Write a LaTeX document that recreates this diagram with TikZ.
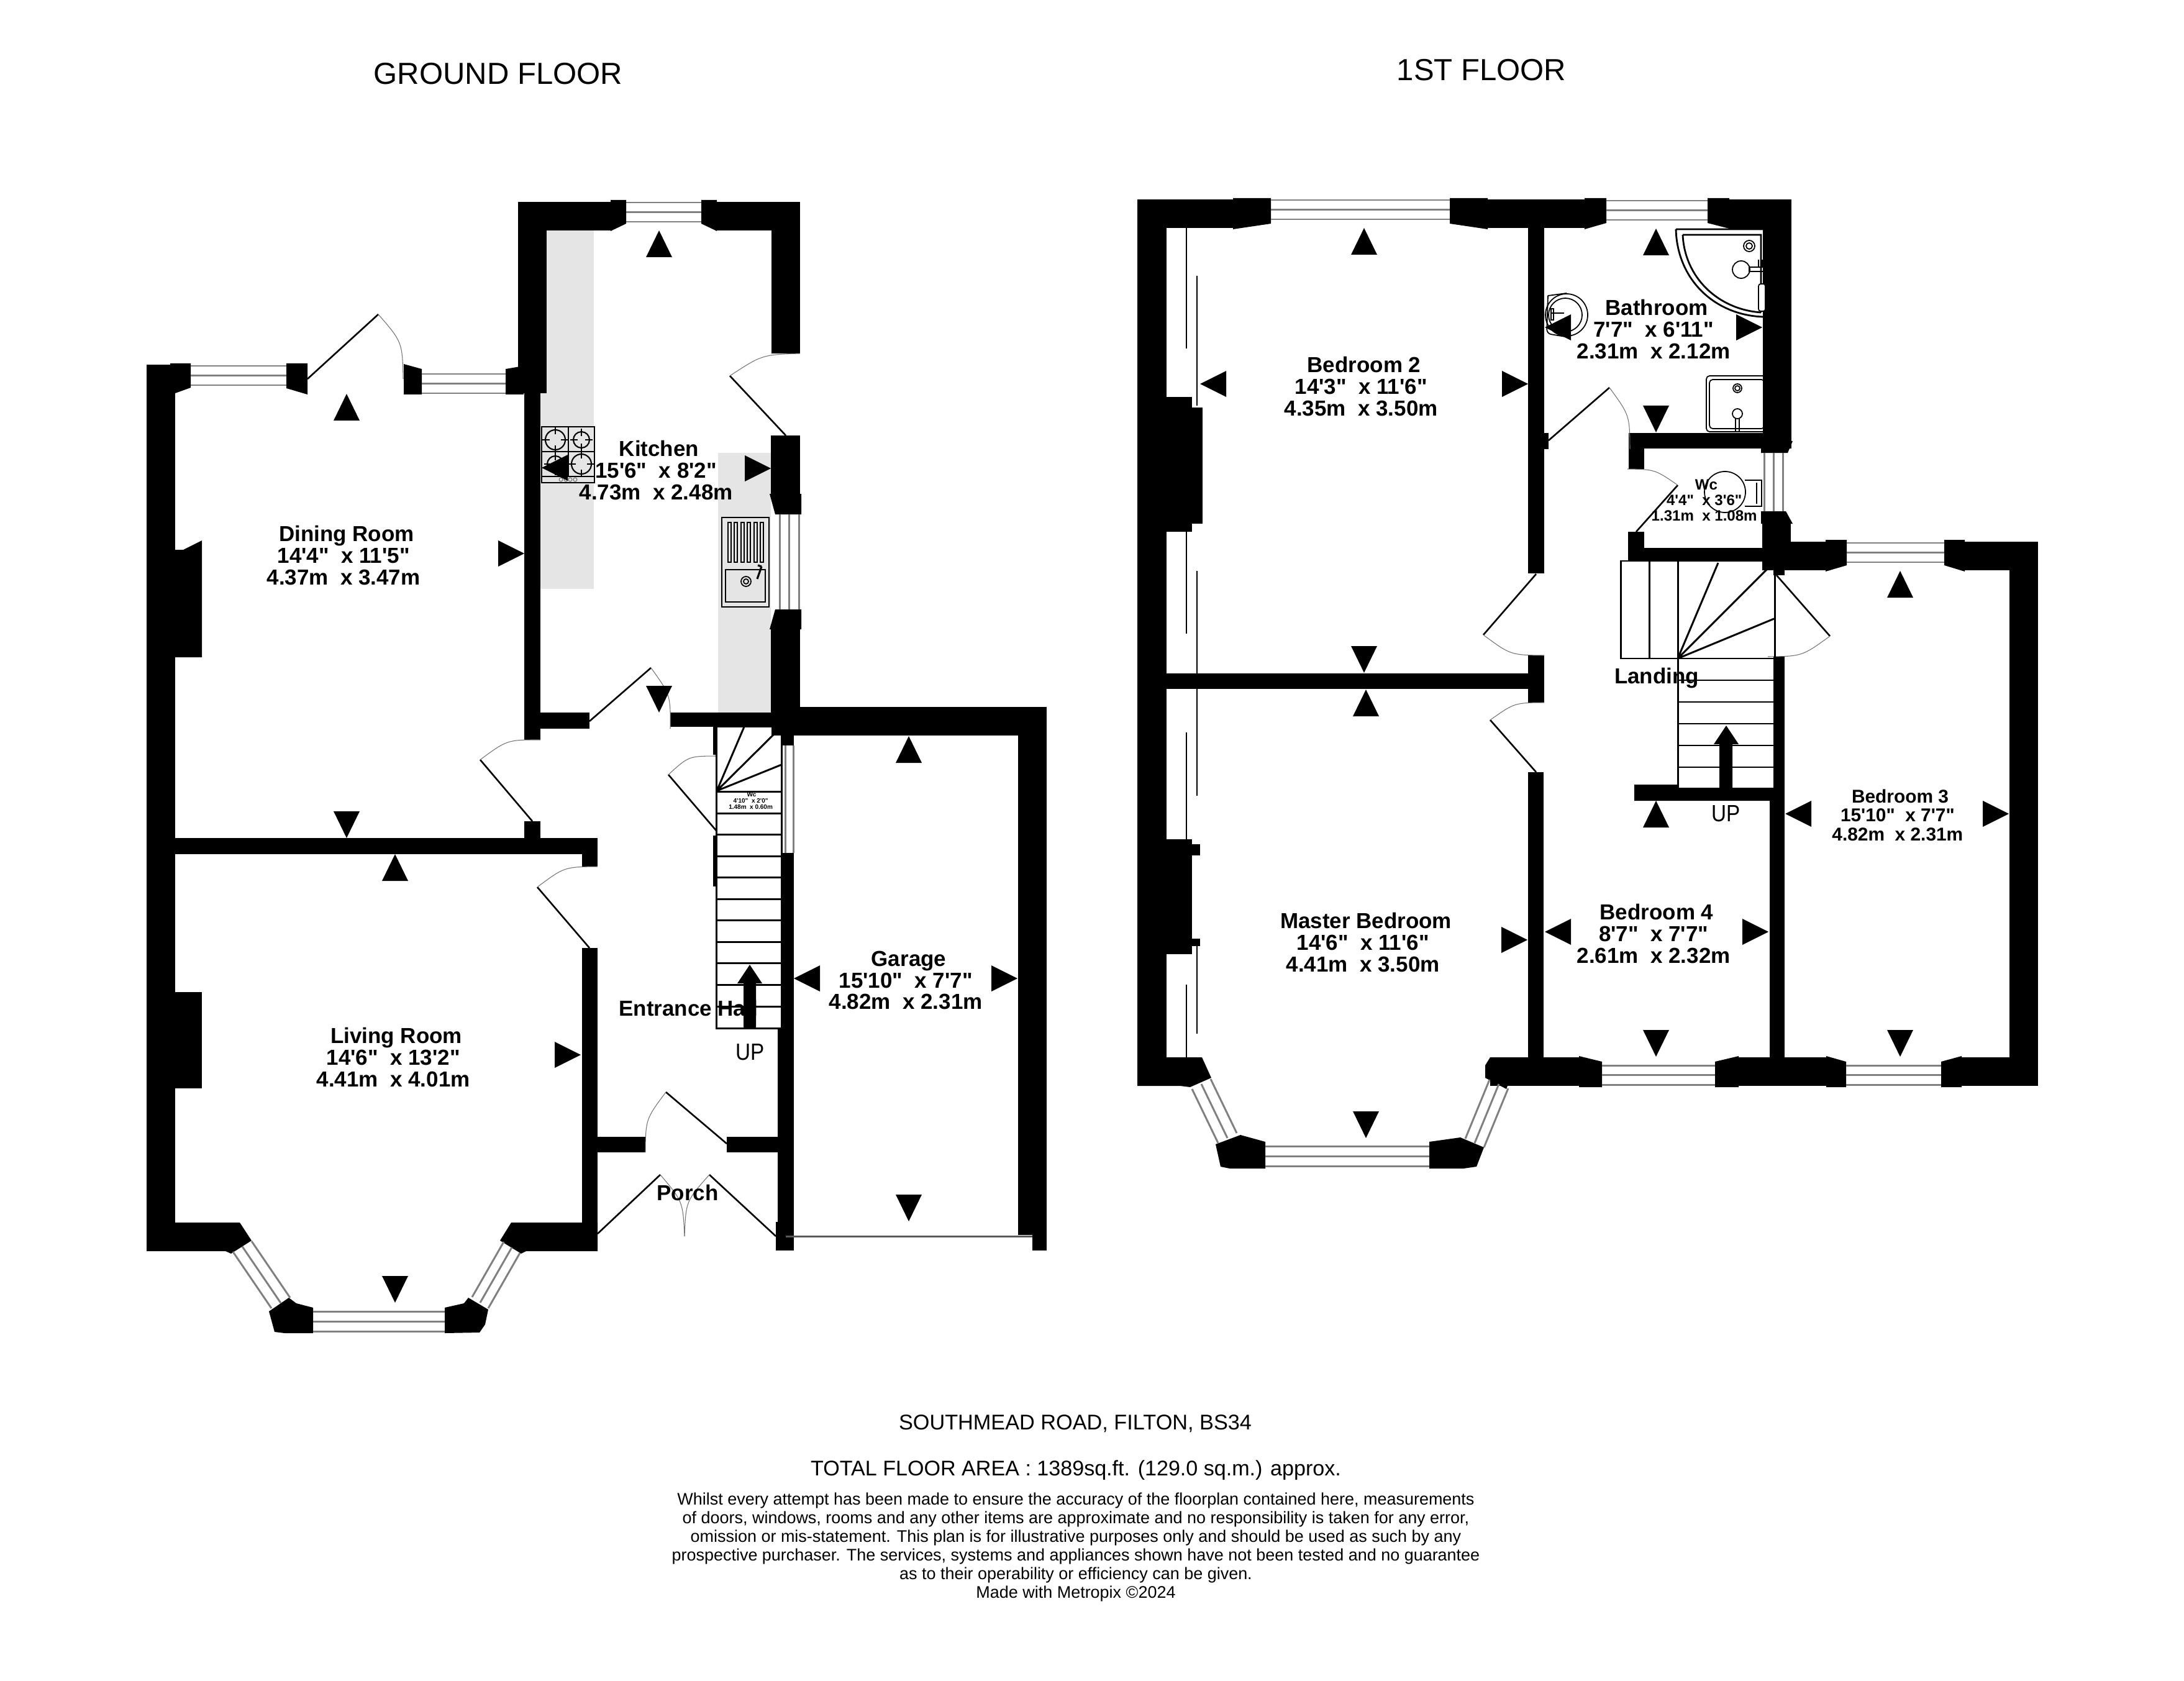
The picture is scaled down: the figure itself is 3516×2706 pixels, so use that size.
\documentclass[tikz,border=0pt]{standalone}
\usepackage{fontspec}
\newfontfamily\plan{Liberation Sans}
\newfontfamily\upplan[FakeStretch=.88]{Liberation Sans}
\newcommand{\roomfont}{\plan\bfseries\fontsize{19.9}{19.9}\selectfont}
\newcommand{\tl}{\kern.278em\relax}
\tikzset{
    wall/.style={fill=black},
    counter/.style={fill=black!10},
    glass/.style={draw=black!50, line width=1.7pt},
    leaf/.style={draw=black, line width=1.5pt},
    swing/.style={draw=black!55, line width=.6pt},
    tread/.style={draw=black, line width=1.7pt},
    fixture/.style={draw=black, line width=1pt},
    thinline/.style={draw=black, line width=1.1pt},
    room/.style={font=\roomfont, align=center, inner sep=0pt},
    upmark/.style={font=\upplan\fontsize{21.5}{21.5}\selectfont, inner sep=0pt},
}

\begin{document}
\begin{tikzpicture}[x=0.02cm, y=-0.02cm]
    \useasboundingbox (0,0) rectangle (3516,2706);

    % titles
    \node[font=\plan\fontsize{27.9}{27.9}\selectfont] (groundtitle) at (802,119) {GROUND FLOOR};
    \node[font=\plan\fontsize{27.9}{27.9}\selectfont] (firsttitle) at (2385,113) {1ST FLOOR};

    % kitchen worktops
    \fill[counter] (870,371) rectangle (956,948);
    \fill[counter] (1156,729) rectangle (1241,1147);

    % hob
    \draw[fixture, line width=1.3pt] (872,687) rectangle (957,777);
    \draw[fixture] (872,727)--(957,727) (872,767)--(957,767) (915,687)--(915,767);
    \foreach \cx/\cy/\cr in {894/708/16, 936/708/13, 894/747/13, 936/747/16}
    {
        \draw[fixture, line width=1.2pt] (\cx,\cy) circle[radius=\cr];
        \draw[fixture, line width=.8pt] ({\cx-\cr-5},\cy)--({\cx-\cr+7},\cy) ({\cx+\cr-7},\cy)--({\cx+\cr+5},\cy)
            (\cx,{\cy-\cr-5})--(\cx,{\cy-\cr+7}) (\cx,{\cy+\cr-7})--(\cx,{\cy+\cr+5});
    }
    \foreach \cx in {903,911,918,926}
        \draw[swing] (\cx,772) circle[radius=3];

    % sink
    \draw[fixture, line width=1.3pt] (1162,833) rectangle (1238,977);
    \draw[fixture] (1168,917) rectangle (1232,969);
    \foreach \bx in {1172,1182,1193,1203,1214,1224}
        \draw[swing, draw=black, line width=.8pt] (\bx,841) rectangle ++(5,64);
    \draw[fixture] (1201,936) circle[radius=8] (1201,936) circle[radius=4];
    \draw[fixture, line width=1.8pt] (1226,912)--(1219,932) (1220,910)--(1226,912);

    % ground floor walls
    \foreach \ax/\ay/\bx/\by in {236/587/282/2014, 834/325/880/633, 844/633/870/1191, 834/325/983/371,
        1154/325/1288/371, 1242/325/1288/569, 1241/701/1288/795, 1241/1013/1288/1170,
        870/1147/949/1173, 1079/1147/1242/1170, 1242/1138/1685/1184, 1258/1170/1278/1200,
        1639/1138/1685/1988, 1662/1988/1685/2013, 1258/1373/1278/1655, 1252/1655/1278/1988,
        1249/1967/1278/2013, 1148/1170/1154/1215, 1148/1345/1154/1427, 962/1830/1039/1855,
        1170/1830/1253/1855, 282/1349/962/1375, 937/1349/962/1395, 844/1322/870/1375,
        937/1526/962/2014, 282/1597/325/1752}
        \fill[wall] (\ax,\ay) rectangle (\bx,\by);
    \fill[wall] (282,885)--(295,885)--(325,870)--(325,1058)--(282,1058)--cycle;
    \fill[wall] (274,585)--(307,585)--(307,624)--(282,633)--(274,633)--cycle;
    \fill[wall] (461,585)--(495,585)--(495,635)--(461,625)--cycle;
    \fill[wall] (650,586)--(679,594)--(679,635)--(650,635)--cycle;
    \fill[wall] (814,594)--(843,589)--(843,635)--(814,635)--cycle;
    \fill[wall] (983,322)--(1008,322)--(1008,360)--(983,372)--cycle;
    \fill[wall] (1129,322)--(1154,322)--(1154,372)--(1129,360)--cycle;
    \fill[wall] (1239,795)--(1290,795)--(1290,828)--(1248,828)--cycle;
    \fill[wall] (1248,981)--(1290,981)--(1290,1013)--(1239,1013)--cycle;
    \fill[wall] (236,1968)--(386,1968)--(405,1997)--(372,2018)--(363,2014)--(236,2014)--cycle;
    \fill[wall] (823,1968)--(962,1968)--(962,2014)--(847,2014)--(839,2018)--(805,1997)--cycle;
    \fill[wall] (433,2111)--(465,2089)--(477,2098)--(504,2105)--(504,2146)--(458,2146)--(442,2144)--cycle;
    \fill[wall] (716,2105)--(747,2098)--(754,2089)--(786,2108)--(781,2132)--(772,2145)--(716,2146)--cycle;

    % first floor walls
    \foreach \ax/\ay/\bx/\by in {1831/321/1878/1748, 1831/321/1985/367, 2395/321/2551/367, 2784/321/2884/368,
        2838/321/2884/710, 2460/367/2486/923, 2486/697/2493/723, 2622/697/2884/722, 2622/722/2647/755,
        2621/856/2647/903, 2621/882/2855/903, 2837/843/2883/918, 2883/872/2939/918, 3163/872/3281/918,
        3235/872/3281/1748, 2855/903/2873/926, 2855/1057/2873/1280, 2849/1268/2873/1748,
        1878/1084/2486/1109, 2460/1055/2486/1131, 2460/1243/2485/1702, 2399/1702/2542/1748,
        2799/1702/2940/1748, 3158/1702/3281/1748, 1878/639/1919/856, 1919/656/1936/843,
        1877/1351/1919/1536, 1919/1359/1932/1377, 1919/1511/1932/1523}
        \fill[wall] (\ax,\ay) rectangle (\bx,\by);
    \fill[wall] (1985,319)--(2046,319)--(2046,360)--(1985,369)--cycle;
    \fill[wall] (2334,319)--(2395,319)--(2395,369)--(2334,360)--cycle;
    \fill[wall] (2551,319)--(2586,319)--(2586,359)--(2551,369)--cycle;
    \fill[wall] (2749,319)--(2784,319)--(2784,368)--(2749,359)--cycle;
    \fill[wall] (2835,710)--(2886,710)--(2878,729)--(2835,729)--cycle;
    \fill[wall] (2835,823)--(2875,823)--(2886,843)--(2835,843)--cycle;
    \fill[wall] (2939,869)--(2973,869)--(2973,910)--(2939,920)--cycle;
    \fill[wall] (3130,869)--(3163,869)--(3163,920)--(3130,910)--cycle;
    \fill[wall] (2631,1263)--(2701,1263)--(2701,1268)--(2856,1268)--(2856,1289)--(2631,1289)--cycle;
    \fill[wall] (2542,1700)--(2579,1709)--(2579,1750)--(2542,1750)--cycle;
    \fill[wall] (2761,1709)--(2799,1700)--(2799,1750)--(2761,1750)--cycle;
    \fill[wall] (2940,1700)--(2972,1709)--(2972,1750)--(2940,1750)--cycle;
    \fill[wall] (3125,1709)--(3158,1700)--(3158,1750)--(3125,1750)--cycle;
    \fill[wall] (1831,1702)--(1935,1702)--(1950,1735)--(1916,1750)--(1900,1748)--(1831,1748)--cycle;
    \fill[wall] (2399,1702)--(2391,1715)--(2391,1735)--(2425,1753)--(2432,1735)--(2440,1702)--cycle;
    \fill[wall] (1957,1842)--(1997,1827)--(2037,1838)--(2037,1881)--(1980,1881)--(1965,1878)--cycle;
    \fill[wall] (2301,1838)--(2351,1831)--(2389,1847)--(2377,1878)--(2356,1881)--(2301,1881)--cycle;

    % wardrobes
    \draw[thinline] (1910,367)--(1910,561) (1927,444)--(1927,653) (1910,856)--(1910,1020) (1927,919)--(1927,1084);
    \draw[thinline] (1927,1109)--(1927,1281) (1910,1179)--(1910,1351) (1927,1523)--(1927,1664) (1910,1585)--(1910,1702);

    % windows: start, end, offset between panes
    \foreach \ax/\ay/\bx/\by/\dx/\dy in {307/589/461/589/0/15.5, 679/602/814/602/0/15.5, 1008/326/1129/326/0/15.5,
        1255/828/1255/981/15.5/0, 375/2015/437/2106/15/-8.5, 837/2017/786/2106/-13/-9,
        504/2111/716/2111/0/16, 2046/322/2334/322/0/15.5, 2586/323/2749/323/0/15.5,
        2840/729/2840/823/15/0, 2973/874/3130/874/0/15.5, 2579/1715/2761/1715/0/15.5,
        2972/1715/3125/1715/0/15.5, 2037/1845/2301/1845/0/16, 1919/1753/1961/1840/15/-8,
        2428/1752/2389/1847/-15/-7}
        \draw[glass] (\ax,\ay)--(\bx,\by)
            ({\ax+\dx},{\ay+\dy})--({\bx+\dx},{\by+\dy})
            ({\ax+2*\dx},{\ay+2*\dy})--({\bx+2*\dx},{\by+2*\dy});
    \draw[glass] (1264,1200)--(1264,1373) (1277,1200)--(1277,1373);
    \draw[glass, draw=black!65] (1265,1990)--(1662,1990);

    % doors: hinge, tip of leaf, end of swing
    \foreach \hinx/\hiny/\tipx/\tipy/\endx/\endy in {495/610/609/506/649/610, 1265/701/1175/605/1288/569,
        949/1161/1048/1075/1079/1173, 857/1322/773/1223/870/1191, 949/1526/865/1428/962/1395,
        1153/1337/1076/1247/1152/1217, 1170/1841/1072/1758/1039/1855, 962/1986/1063/1891/1102/1990,
        1249/1990/1142/1891/1102/1990, 2493/709/2591/624/2624/723, 2634/856/2701/781/2620/755,
        2860/926/2946/1024/2846/1057, 2473/924/2388/1022/2486/1055, 2473/1243/2399/1159/2486/1131}
    {
        \draw[leaf] (\hinx,\hiny)--(\tipx,\tipy);
        \draw[swing] (\tipx,\tipy) .. controls ({\hinx+1.14*((\tipx+\endx)/2-\hinx)},{\hiny+1.14*((\tipy+\endy)/2-\hiny)}) .. (\endx,\endy);
    }

    % ground floor stairs
    \draw[tread] (1153,1170) rectangle (1258,1655);
    \foreach \ty in {1274,1309,1343,1378,1412,1447,1481,1516,1550,1585,1620}
        \draw[tread] (1153,\ty)--(1258,\ty);
    \draw[tread] (1154,1273)--(1258,1231) (1154,1273)--(1258,1170) (1154,1273)--(1198,1170);

    % first floor stairs
    \draw[tread] (2609,903) rectangle (2857,1060);
    \draw[tread] (2655,903)--(2655,1060) (2701,903)--(2701,1268) (2857,1060)--(2857,1268);
    \foreach \ty in {1095,1130,1165,1200,1235}
        \draw[tread] (2701,\ty)--(2857,\ty);
    \draw[tread] (2701,1060)--(2856,996) (2701,1060)--(2855,906) (2701,1060)--(2766,906);

    % bathroom fittings
    \draw[fixture, line width=1.6pt] (2698,369)--(2838,369) (2698,369) .. controls (2700,450) and (2760,507) .. (2838,510);
    \draw[fixture, line width=1.6pt] (2709,378)--(2835,378)--(2835,503) (2709,378) .. controls (2712,446) and (2765,498) .. (2835,503);
    \draw[fixture] (2816,396) circle[radius=9] (2816,396) circle[radius=5];
    \draw[fixture] (2803,434) circle[radius=14];
    \draw[fixture] (2816,430) rectangle (2840,437) (2831,418)--(2831,430) (2837,418)--(2837,430);
    \draw[fixture, fill=white, rounded corners=2pt] (2831,457) rectangle (2842,501);
    \draw[fixture, rounded corners=4pt] (2492,476)--(2522,472) (2492,476)--(2490,537)--(2520,542);
    \draw[fixture] (2522,507) circle[radius=34] (2520,507) circle[radius=27];
    \draw[fixture] (2497,504)--(2518,504) (2497,497) rectangle (2501,515);
    \draw[fixture, rounded corners=3pt] (2747,605) rectangle (2846,695);
    \draw[fixture, rounded corners=3pt] (2752,611) rectangle (2841,690);
    \draw[fixture] (2797,625) circle[radius=7] (2797,625) circle[radius=4];
    \draw[fixture] (2797,666) circle[radius=8] (2794,674)--(2794,695) (2800,674)--(2800,695);
    \draw[fixture] (2777,792) circle[radius=33];
    \draw[fixture] (2809,773)--(2836,773)--(2836,815)--(2809,815) (2828,777)--(2828,811);

    % room labels
    \node[room] (dining) at (558,894) {Dining Room\\14'4"~~x 11'5"\tl\\4.37m~~x 3.47m\tl};
    \node[room] (kitchen) at (1061,757) {Kitchen\\15'6"~~x 8'2"\tl\\4.73m~~x 2.48m\tl};
    \node[room] (living) at (638,1702) {Living Room\\14'6"~~x 13'2"\tl\\4.41m~~x 4.01m\tl};
    \node[room] (garage) at (1463,1578) {Garage\\15'10"~~x 7'7"\tl\\4.82m~~x 2.31m\tl};
    \node[room, anchor=west] (hall) at (996,1623) {Entrance Hall};
    \node[room] (porch) at (1107,1920) {Porch};
    \node[room] (bedtwo) at (2196,622) {Bedroom 2\\14'3"~~x 11'6"\tl\\4.35m~~x 3.50m\tl};
    \node[room] (bath) at (2667,530) {Bathroom\\7'7"~~x 6'11"\tl\\2.31m~~x 2.12m\tl};
    \node[room, font=\plan\bfseries\fontsize{13.7}{14.2}\selectfont] (wc) at (2747,805) {Wc\\4'4"~~x 3'6"\tl\\1.31m~~x 1.08m\tl};
    \node[room] (landing) at (2667,1092) {Landing};
    \node[room, font=\plan\bfseries\fontsize{17}{17.3}\selectfont] (bedthree) at (3059,1312) {Bedroom 3\\15'10"~~x 7'7"\tl\\4.82m~~x 2.31m\tl};
    \node[room] (bedfour) at (2667,1503) {Bedroom 4\\8'7"~~x 7'7"\tl\\2.61m~~x 2.32m\tl};
    \node[room] (master) at (2199,1517) {Master Bedroom\\14'6"~~x 11'6"\tl\\4.41m~~x 3.50m\tl};
    \node[room, font=\plan\bfseries\fontsize{5.7}{5.9}\selectfont] (stairwc) at (1210,1289) {Wc\\4'10"~~x 2'0"\tl\\1.48m~~x 0.60m\tl};

    % stair arrows
    \fill[wall] (1197,1655)--(1197,1583)--(1187,1583)--(1207,1553)--(1227,1583)--(1217,1583)--(1217,1655)--cycle;
    \fill[wall] (2768,1268)--(2768,1198)--(2759,1198)--(2779,1168)--(2799,1198)--(2789,1198)--(2789,1268)--cycle;
    \node[upmark] (upground) at (1208,1694) {UP};
    \node[upmark] (upfirst) at (2779,1310) {UP};

    % dimension marks, tip first
    \foreach \x/\y in {558/634, 1061/371, 636/1375, 1463/1185, 2196/367, 2666/368, 2199/1110, 2666/1289, 3059/919}
        \fill[wall] (\x,\y)--++(-21,43)--++(42,0)--cycle;
    \foreach \x/\y in {558/1349, 1061/1147, 636/2097, 1463/1966, 2196/1083, 2666/696, 2199/1832, 2666/1701, 3059/1701}
        \fill[wall] (\x,\y)--++(-21,-43)--++(42,0)--cycle;
    \foreach \x/\y in {872/753, 1278/1575, 1932/618, 2487/527, 2487/1500, 2874/1310}
        \fill[wall] (\x,\y)--++(42,-21)--++(0,42)--cycle;
    \foreach \x/\y in {844/891, 1241/754, 935/1698, 1638/1575, 2460/618, 2837/527, 2459/1513, 2847/1500, 3234/1310}
        \fill[wall] (\x,\y)--++(-42,-21)--++(0,42)--cycle;

    % footer
    \node[font=\plan\fontsize{19.5}{19.5}\selectfont] (address) at (1731,2292) {SOUTHMEAD ROAD, FILTON, BS34};
    \node[font=\plan\fontsize{19.4}{19.4}\selectfont] (area) at (1732,2367) {TOTAL FLOOR AREA : 1389sq.ft. (129.0 sq.m.) approx.};
    \node[font=\plan\fontsize{15.35}{17.1}\selectfont, align=center, anchor=north] (disclaimer) at (1732,2397)
        {Whilst every attempt has been made to ensure the accuracy of the floorplan contained here, measurements\\
         of doors, windows, rooms and any other items are approximate and no responsibility is taken for any error,\\
         omission or mis-statement. This plan is for illustrative purposes only and should be used as such by any\\
         prospective purchaser. The services, systems and appliances shown have not been tested and no guarantee\\
         as to their operability or efficiency can be given.\\
         Made with Metropix ©2024};
\end{tikzpicture}
\end{document}
